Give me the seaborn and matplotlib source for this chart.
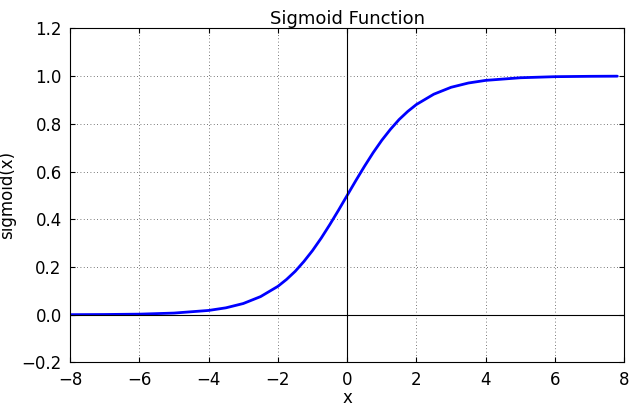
import numpy as np
import matplotlib.pyplot as plt
import seaborn as sns

# values
x_vals = [-8, -7, -6, -5, -4, -3.5, -3, -2.5, -2, -1.75, -1.5, -1.25, -1,
          -0.75, -0.5, -0.25, 0, 0.25, 0.5, 0.75, 1, 1.25, 1.5, 1.75, 2,
          2.5, 3, 3.5, 4, 5, 6, 7, 7.8]
y_vals = [0.0003, 0.001, 0.0025, 0.007, 0.018, 0.029, 0.047, 0.076, 0.119,
          0.148, 0.182, 0.223, 0.269, 0.321, 0.378, 0.438, 0.5, 0.562,
          0.622, 0.679, 0.731, 0.777, 0.818, 0.852, 0.881, 0.924, 0.953,
          0.971, 0.982, 0.993, 0.9975, 0.999, 0.9996]

sns.set_style("ticks")
plt.rcParams['font.family'] = ['DejaVu Sans']
plt.rcParams['text.color'] = 'black'
plt.rcParams['axes.labelcolor'] = 'black'

fig, ax = plt.subplots(figsize=(6.37, 4.05), dpi=100)
fig.subplots_adjust(left=0.11, right=0.98, top=0.93, bottom=0.105)

sns.lineplot(x=x_vals, y=y_vals, ax=ax, color='blue', linewidth=2)
ax.axhline(0, color='black', linewidth=0.8)
ax.axvline(0, color='black', linewidth=0.8)

ax.set_xlim(-8, 8)
ax.set_ylim(-0.2, 1.2)
ax.set_xticks(np.arange(-8, 9, 2))
ax.set_yticks(np.arange(-0.2, 1.21, 0.2))
ax.set_xticklabels(['\u22128', '\u22126', '\u22124', '\u22122', '0', '2', '4', '6', '8'])
ax.set_yticklabels(['\u22120.2', '0.0', '0.2', '0.4', '0.6', '0.8', '1.0', '1.2'])
ax.grid(True, linestyle=(0, (1, 3)), color='black', linewidth=0.6, alpha=0.7)
ax.tick_params(direction='in', top=True, right=True, labelsize=12,
               colors='black', pad=6)
for s in ax.spines.values():
    s.set_color('black')
    s.set_linewidth(0.8)

ax.set_title('Sigmoid Function', fontsize=13, pad=3, color='black')
ax.set_xlabel('x', fontsize=12, labelpad=0)
ax.set_ylabel('sigmoid(x)', fontsize=12, labelpad=4)

plt.savefig('out.png', dpi=100)
